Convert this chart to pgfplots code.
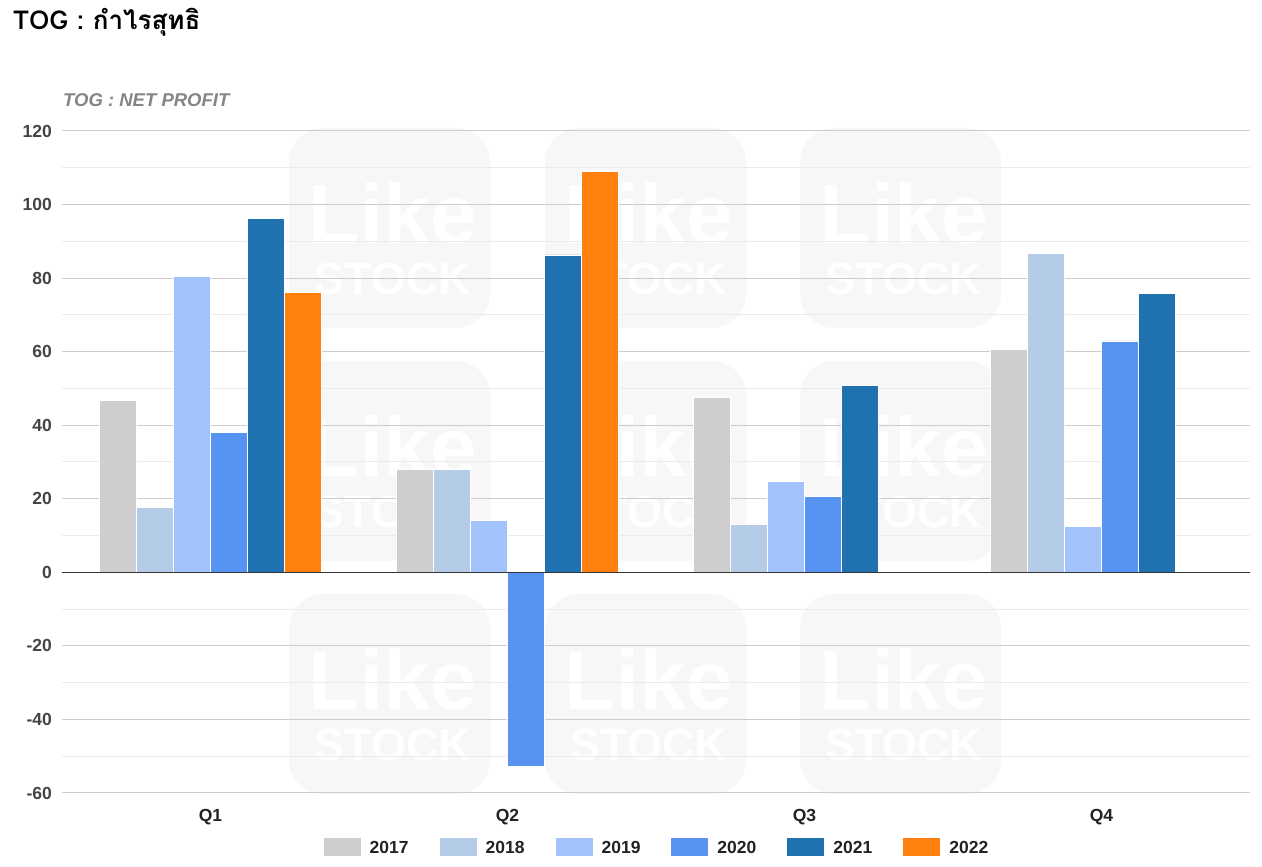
\documentclass[border=0pt]{standalone}
\usepackage{fontspec}
\setmainfont{Liberation Sans}
\newfontfamily\thaifont[Script=Thai]{Loma}
\usepackage{pgfplots}
\pgfplotsset{compat=1.18}
\definecolor{c17}{HTML}{CFCDCE}
\definecolor{c18}{HTML}{B5CCE9}
\definecolor{c19}{HTML}{A1C2FA}
\definecolor{c20}{HTML}{5793F3}
\definecolor{c21}{HTML}{1F71B0}
\definecolor{c22}{HTML}{FF800E}
\definecolor{gridmaj}{HTML}{CCCCCC}
\definecolor{gridmin}{HTML}{EBEBEB}
\definecolor{zeroc}{HTML}{333333}
\definecolor{tickc}{HTML}{444444}
\definecolor{labc}{HTML}{222222}
\definecolor{subc}{HTML}{858585}
\definecolor{wm}{HTML}{F7F7F7}
\newcommand\tickfont{\fontsize{17.5}{20}\selectfont\bfseries}
\begin{document}
\begin{tikzpicture}[x=1pt,y=1pt]
\useasboundingbox (0,0) rectangle (1262,867);
% watermark
\foreach \x in {289,545,800}{
  \foreach \y in {128,361,594}{
    \fill[wm,rounded corners=34] (\x,867-\y) rectangle ++(201,-200);
    \node[text=white,font=\fontsize{84}{88}\selectfont\bfseries,inner sep=0] at (\x+104,867-\y-85) {Like};
    \node[text=white,font=\fontsize{45}{48}\selectfont\bfseries,inner sep=0] at (\x+104,867-\y-151) {STOCK};
  }
}
\node[anchor=base west,inner sep=0] at (13,867-30) {\thaifont\bfseries\fontsize{26}{30}\selectfont TOG : กำไรสุทธิ};
\node[anchor=base west,inner sep=0,text=subc] at (63,867-107) {\fontsize{18.5}{21}\selectfont\bfseries\itshape TOG : NET PROFIT};
\begin{axis}[
  at={(62pt,74pt)}, anchor=south west, scale only axis,
  width=1188pt, height=662pt,
  xmin=-0.5, xmax=3.5, ymin=-60, ymax=120,
  ybar=0pt, bar width=0.125,
  xtick={0,1,2,3}, xticklabels={Q1,Q2,Q3,Q4},
  ytick={-60,-40,-20,0,20,40,60,80,100,120},
  yticklabels={-60,-40,-20,0,20,40,60,80,100,120},
  minor ytick={-50,-30,-10,10,30,50,70,90,110},
  ymajorgrids, yminorgrids,
  major grid style={color=gridmaj, line width=1pt},
  minor grid style={color=gridmin, line width=1pt},
  axis line style={draw=none},
  major tick length=0pt, minor tick length=0pt,
  tick style={draw=none},
  yticklabel style={font=\tickfont, text=tickc, anchor=east, inner sep=0pt, xshift=-10pt},
  xticklabel style={font=\tickfont, text=labc, anchor=north, inner sep=0pt, yshift=-16pt},
  legend columns=6,
  legend style={draw=none, fill=none, at={(0.5,0)}, anchor=center, yshift=-54pt,
    font=\tickfont, text=labc, nodes={inner sep=0pt},
    /tikz/every odd column/.style={column sep=9pt},
    /tikz/every even column/.style={column sep=31pt}},
  legend image code/.code={\fill[#1,draw=none] (0pt,-7.75pt) rectangle (37pt,10.25pt);},
]
\addplot[fill=c17, draw=white, line width=0.8pt] coordinates {(0,46.7) (1,28.0) (2,47.5) (3,60.5)};
\addplot[fill=c18, draw=white, line width=0.8pt] coordinates {(0,17.6) (1,28.0) (2,13.0) (3,86.7)};
\addplot[fill=c19, draw=white, line width=0.8pt] coordinates {(0,80.4) (1,14.1) (2,24.7) (3,12.5)};
\addplot[fill=c20, draw=white, line width=0.8pt] coordinates {(0,38.0) (1,-52.7) (2,20.6) (3,62.9)};
\addplot[fill=c21, draw=white, line width=0.8pt] coordinates {(0,96.1) (1,86.3) (2,50.8) (3,75.9)};
\addplot[fill=c22, draw=white, line width=0.8pt] coordinates {(0,76.0) (1,108.9)};
\legend{2017,2018,2019,2020,2021,2022}
\draw[color=zeroc, line width=1.2pt] (axis cs:-0.5,0) -- (axis cs:3.5,0);
\end{axis}
\end{tikzpicture}
\end{document}
